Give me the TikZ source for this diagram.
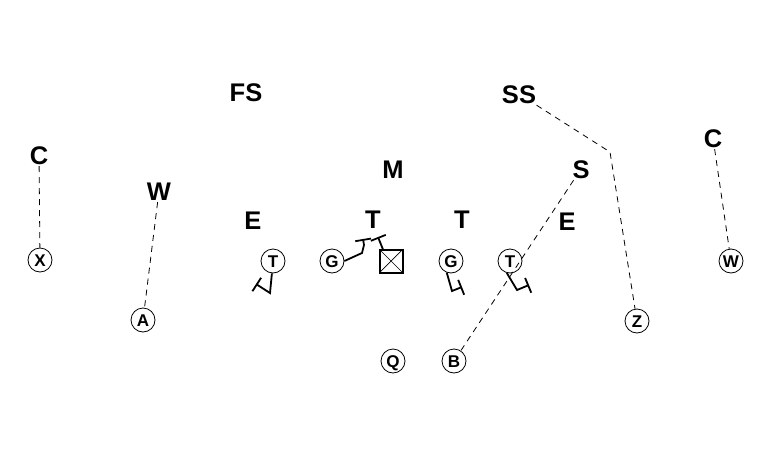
\documentclass[tikz,border=0pt]{standalone}
\usepackage{fontspec}
\setmainfont{Liberation Sans}
\usetikzlibrary{arrows.meta}
\begin{document}
\begin{tikzpicture}[x=1pt,y=-1pt,
  def/.style={font=\fontsize{25.5}{25}\selectfont\bfseries, inner sep=2pt, text height=18pt, text depth=0pt},
  off/.style={circle, draw, line width=0.8pt, minimum size=24pt, inner sep=0pt,
     font=\fontsize{17}{17}\selectfont\bfseries, text height=12pt, text depth=0pt},
  ctr/.style={rectangle, draw, line width=2pt, minimum size=23pt, inner sep=0pt,
     path picture={\draw[line width=0.7pt] (path picture bounding box.south west) -- (path picture bounding box.north east)
       (path picture bounding box.north west) -- (path picture bounding box.south east);}},
  route/.style={dashed, dash pattern=on 6pt off 5pt, line width=0.8pt},
  block/.style={line width=1.8pt, -{Bar[width=16pt]}}]
\useasboundingbox[fill=white] (0,0) rectangle (761,453);
% defense
\node[def] (Cl) at (39,155) {C};
\node[def] (Wd) at (159,191) {W};
\node[def] (FS) at (246,92) {FS};
\node[def] (SS) at (519,94) {SS};
\node[def] (El) at (253,220) {E};
\node[def] (Tdl) at (373,219) {T};
\node[def] (Tdr) at (462,219) {T};
\node[def] (Er) at (567,221) {E};
\node[def] (M) at (393,169) {M};
\node[def] (S) at (581,169) {S};
\node[def] (Cr) at (713,138) {C};
% offense
\node[off] (X) at (40,260) {X};
\node[off] (A) at (143,320) {A};
\node[off] (Tl) at (273,261) {T};
\node[off] (Gl) at (332,261) {G};
\node[ctr] (Ce) at (391,261) {};
\node[off] (Gr) at (451,261) {G};
\node[off] (Tr) at (510,261) {T};
\node[off] (Wo) at (731,261) {W};
\node[off] (Z) at (637,321) {Z};
\node[off] (Q) at (393,361) {Q};
\node[off] (B) at (454,361) {B};
% routes
\coordinate (bend) at (610,152);
\draw[route] (Cl) -- (X);
\draw[route] (Wd) -- (A);
\draw[route] (SS) -- (bend) -- (Z);
\draw[route] (S) -- (B);
\draw[route] (Cr) -- (Wo);
% blocks
\draw[block] (Tl.265) -- (270,293) -- (256,284);
\draw[block] (Gr.250) -- (452,291) -- (462,287);
\draw[block] (Tr.255) -- (517,290) -- (529,285);
\draw[block] (Gl.east) -- (362,253) -- (364,245) -- (363,239);
\draw[block] (383,249.5) -- (378,237);
\end{tikzpicture}
\end{document}
